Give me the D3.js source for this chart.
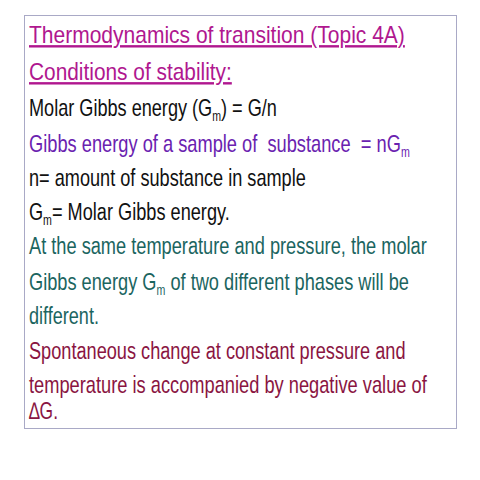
<!DOCTYPE html>
<html>
<head>
<meta charset="utf-8">
<script src="https://cdn.jsdelivr.net/npm/d3@7"></script>
<style>body{margin:0;background:#fff}text{white-space:pre}</style>
</head>
<body>
<div id="slide"></div>
<script>
// slide text, "{m}" marks a subscript m
var lines = [
  "Thermodynamics of transition (Topic 4A)",
  "Conditions of stability:",
  "Molar Gibbs energy (G{m}) = G/n",
  "Gibbs energy of a sample of  substance  = nG{m}",
  "n= amount of substance in sample",
  "G{m}= Molar Gibbs energy.",
  "At the same temperature and pressure, the molar",
  "Gibbs energy G{m} of two different phases will be",
  "different.",
  "Spontaneous change at constant pressure and",
  "temperature is accompanied by negative value of",
  "\u2206G."
];
var colors = ["#b0178f","#b0178f","#111","#6a22b0","#111","#111","#1b655f","#1b655f","#1b655f","#8a1542","#8a1542","#8a1542"];
var underline = [true,true,false,false,false,false,false,false,false,false,false,false];
var baselines = [43,80,116,152,186,220,254,290,324,359,393,419];
var rightEdge = [405,232,277,410,306,230,427,409,99,406,427,58];

var w = 480, h = 480;
var svg = d3.select("#slide").append("svg").attr("width", w).attr("height", h);
svg.append("rect").attr("x", 24.5).attr("y", 15.5).attr("width", 432).attr("height", 413)
   .attr("fill", "#fff").attr("stroke", "#a9a9c6").attr("stroke-width", 1);

var y = d3.scaleOrdinal().domain(d3.range(lines.length)).range(baselines);

lines.forEach(function(line, i){
  var t = svg.append("text")
    .attr("x", 29).attr("y", y(i))
    .attr("font-family", "'Liberation Sans', Arial, sans-serif")
    .attr("font-size", 24)
    .attr("fill", colors[i])
    .attr("text-decoration", underline[i] ? "underline" : null);
  var shift = 0;
  line.split(/(\{m\})/).forEach(function(part){
    if (part === "{m}") {
      t.append("tspan").attr("font-size", 14).attr("dy", 5).text("m");
      shift = -5;
    } else if (part) {
      t.append("tspan").attr("dy", shift || null).text(part);
      shift = 0;
    }
  });
  var len = t.node().getComputedTextLength();
  var target = rightEdge[i] - 29;
  t.attr("transform", "translate(29,0) scale(" + (target/len) + ",1) translate(-29,0)");
});
</script>
</body>
</html>
